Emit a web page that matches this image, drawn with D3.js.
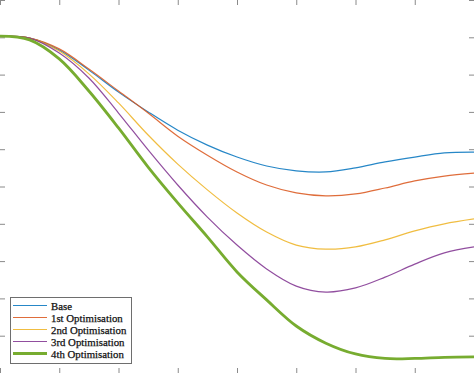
<!DOCTYPE html>
<html>
<head>
<meta charset="utf-8">
<script src="https://cdn.jsdelivr.net/npm/d3@7"></script>
<style>
  html, body { margin: 0; padding: 0; background: #fff; }
  svg { display: block; }
  .tick line { stroke: #8a8a8a; stroke-width: 1; }
  .legendText { font-family: "Liberation Serif", "DejaVu Serif", serif; font-size: 10.8px; fill: #111; stroke: #111; stroke-width: 0.25; }
</style>
</head>
<body>
<script>
//data (x in axis units 0..8, y in axis units 0..10)
var xValues = [0, 0.5, 1, 1.5, 2, 2.5, 3, 3.5, 4, 4.5, 5, 5.5, 6, 6.5, 7, 7.5, 8];
var base   = [9.03, 8.98, 8.66, 8.12, 7.53, 7.00, 6.51, 6.11, 5.79, 5.55, 5.42, 5.39, 5.50, 5.66, 5.79, 5.90, 5.92];
var opt1st = [9.03, 8.98, 8.69, 8.15, 7.56, 6.97, 6.35, 5.84, 5.39, 5.04, 4.83, 4.75, 4.80, 4.96, 5.15, 5.28, 5.36];
var opt2nd = [9.03, 8.98, 8.63, 8.02, 7.24, 6.38, 5.60, 4.91, 4.29, 3.78, 3.43, 3.32, 3.38, 3.57, 3.81, 4.00, 4.13];
var opt3rd = [9.03, 8.98, 8.58, 7.91, 6.97, 5.98, 5.04, 4.18, 3.43, 2.79, 2.33, 2.17, 2.28, 2.57, 2.92, 3.22, 3.38];
var opt4th = [9.03, 8.93, 8.42, 7.56, 6.57, 5.52, 4.56, 3.65, 2.71, 1.96, 1.26, 0.80, 0.51, 0.39, 0.39, 0.42, 0.43];
var seriesNames = ["Base", "1st Optimisation", "2nd Optimisation", "3rd Optimisation", "4th Optimisation"];
var seriesColors = ["#0072BD", "#D95319", "#EDB120", "#7E2F8E", "#77AC30"];
var seriesWidths = [1.2, 1.2, 1.2, 1.2, 2.8];
var xTicks = [0, 1, 2, 3, 4, 5, 6, 7, 8];
var yTicks = [0, 1, 2, 3, 4, 5, 6, 7, 8, 9, 10];

var width = 474,
    height = 373;

var svg = d3.select("body")
    .append("svg")
    .attr("width", width)
    .attr("height", height);

var xScale = d3.scaleLinear().domain([0, 8]).range([0, width]);
var yScale = d3.scaleLinear().domain([0, 10]).range([height, 0]);

//ticks on all four sides, pointing inward, no labels
var axes = [
    {gen: d3.axisBottom(xScale).tickValues(xTicks), t: "translate(0," + height + ")"},
    {gen: d3.axisTop(xScale).tickValues(xTicks), t: "translate(0,0)"},
    {gen: d3.axisLeft(yScale).tickValues(yTicks), t: "translate(0,0)"},
    {gen: d3.axisRight(yScale).tickValues(yTicks), t: "translate(" + width + ",0)"}
];
axes.forEach(function(a){
    var g = svg.append("g")
        .attr("class", "axis")
        .attr("transform", a.t)
        .call(a.gen.tickSize(-5).tickFormat(""));
    g.select(".domain").remove();
});

//lines
var allSeries = [base, opt1st, opt2nd, opt3rd, opt4th];
var line = d3.line()
    .x(function(d){ return xScale(d[0]); })
    .y(function(d){ return yScale(d[1]); })
    .curve(d3.curveCatmullRom.alpha(0.5));

allSeries.forEach(function(vals, i){
    svg.append("path")
        .datum(xValues.map(function(x, j){ return [x, vals[j]]; }))
        .attr("fill", "none")
        .attr("stroke", seriesColors[i])
        .attr("stroke-opacity", i < 4 ? 0.85 : 1)
        .attr("stroke-width", seriesWidths[i])
        .attr("d", line);
});

//legend
var legend = svg.append("g").attr("transform", "translate(10,297)");
legend.append("rect")
    .attr("x", 0.5)
    .attr("y", 0.5)
    .attr("width", 121)
    .attr("height", 66)
    .attr("fill", "#fff")
    .attr("stroke", "#6e6e6e")
    .attr("stroke-width", 1);

seriesNames.forEach(function(name, i){
    var yy = 8.5 + i * 12;
    legend.append("line")
        .attr("x1", 3)
        .attr("x2", 37)
        .attr("y1", yy)
        .attr("y2", yy)
        .attr("stroke", seriesColors[i])
        .attr("stroke-opacity", i < 4 ? 0.85 : 1)
        .attr("stroke-width", seriesWidths[i]);
    legend.append("text")
        .attr("class", "legendText")
        .attr("x", 41)
        .attr("y", yy + 4)
        .text(name);
});
</script>
</body>
</html>
